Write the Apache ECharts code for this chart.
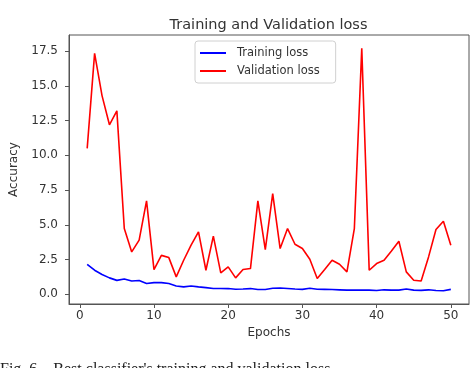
<!DOCTYPE html>
<html>
<head>
<meta charset="utf-8">
<script src="https://cdn.jsdelivr.net/npm/echarts@6/dist/echarts.min.js"></script>
<style>
html,body{margin:0;padding:0;background:#fff;}
#chart{width:474px;height:368px;}
</style>
</head>
<body>
<div id="chart"></div>
<script>
const epochs = [1,2,3,4,5,6,7,8,9,10,11,12,13,14,15,16,17,18,19,20,21,22,23,24,25,26,27,28,29,30,31,32,33,34,35,36,37,38,39,40,41,42,43,44,45,46,47,48,49,50];
const trainingLoss = [2.16,1.73,1.42,1.18,1.0,1.1,0.96,0.99,0.77,0.84,0.84,0.77,0.6,0.53,0.6,0.53,0.48,0.42,0.42,0.41,0.36,0.38,0.41,0.34,0.34,0.43,0.45,0.42,0.38,0.35,0.43,0.36,0.35,0.34,0.32,0.3,0.3,0.3,0.3,0.27,0.32,0.3,0.3,0.38,0.3,0.28,0.32,0.27,0.25,0.35];
const validationLoss = [10.5,17.34,14.3,12.2,13.2,4.73,3.05,3.9,6.72,1.78,2.8,2.64,1.25,2.45,3.53,4.49,1.73,4.18,1.54,1.97,1.18,1.78,1.85,6.72,3.22,7.25,3.29,4.73,3.6,3.29,2.52,1.13,1.78,2.45,2.16,1.61,4.73,17.7,1.73,2.21,2.45,3.12,3.82,1.61,1.01,0.96,2.69,4.66,5.26,3.53];
const xTicks = [0,10,20,30,40,50];
const yTicks = [0,2.5,5,7.5,10,12.5,15,17.5];
const seriesNames = ['Training loss','Validation loss'];
const titleText = 'Training and Validation loss';
const xName = 'Epochs';
const yName = 'Accuracy';
const captionText = "Fig. 6.   Best classifier's training and validation loss";

const font = 'DejaVu Sans';
const chart = echarts.init(document.getElementById('chart'), null, {renderer:'canvas'});
const pairs = (vals) => epochs.map((e,i) => [e, vals[i]]);
chart.setOption({
  animation:false,
  backgroundColor:'#fff',
  title:{text:titleText,left:263.5,top:13,textAlign:'center',
    textStyle:{fontFamily:font,fontSize:14.5,fontWeight:'normal',color:'#333'}},
  legend:{orient:'vertical',left:195,top:41,padding:[5,16,5,5],itemGap:4,itemWidth:26,itemHeight:2,
    icon:'rect',
    borderColor:'#d0d0d0',borderWidth:1,borderRadius:3,backgroundColor:'#fff',
    textStyle:{fontFamily:font,fontSize:11.5,color:'#333',padding:[0,0,0,6],lineHeight:14},
    data:seriesNames},
  grid:{left:58,top:35,right:5,bottom:64,show:true,borderColor:'#555',borderWidth:1,backgroundColor:'transparent'},
  xAxis:{type:'value',min:-1.45,max:52.45,name:xName,nameLocation:'middle',nameGap:22,
    nameTextStyle:{fontFamily:font,fontSize:12,color:'#333'},
    axisLine:{show:true,onZero:false,lineStyle:{color:'#555'}},
    axisTick:{show:true,length:4,customValues:xTicks,lineStyle:{color:'#555'}},
    axisLabel:{customValues:xTicks,margin:6,fontFamily:font,fontSize:12,color:'#333'},
    splitLine:{show:false}},
  yAxis:{type:'value',min:-0.7,max:18.66,name:yName,nameLocation:'middle',nameGap:49,
    nameTextStyle:{fontFamily:font,fontSize:12,color:'#333'},
    axisLine:{show:true,onZero:false,lineStyle:{color:'#555'}},
    axisTick:{show:true,length:4,customValues:yTicks,lineStyle:{color:'#555'}},
    axisLabel:{customValues:yTicks,margin:11,fontFamily:font,fontSize:12,color:'#333',
      formatter:v=>v.toFixed(1)},
    splitLine:{show:false}},
  series:[
    {name:seriesNames[0],type:'line',data:pairs(trainingLoss),symbol:'none',lineStyle:{color:'#0000ff',width:1.6},itemStyle:{color:'#0000ff'}},
    {name:seriesNames[1],type:'line',data:pairs(validationLoss),symbol:'none',lineStyle:{color:'#ff0000',width:1.6},itemStyle:{color:'#ff0000'}}
  ],
  graphic:[{type:'text',left:0,top:362,style:{text:captionText,fontFamily:'Liberation Serif',fontSize:16,fill:'#222'}}]
});
</script>
</body>
</html>
